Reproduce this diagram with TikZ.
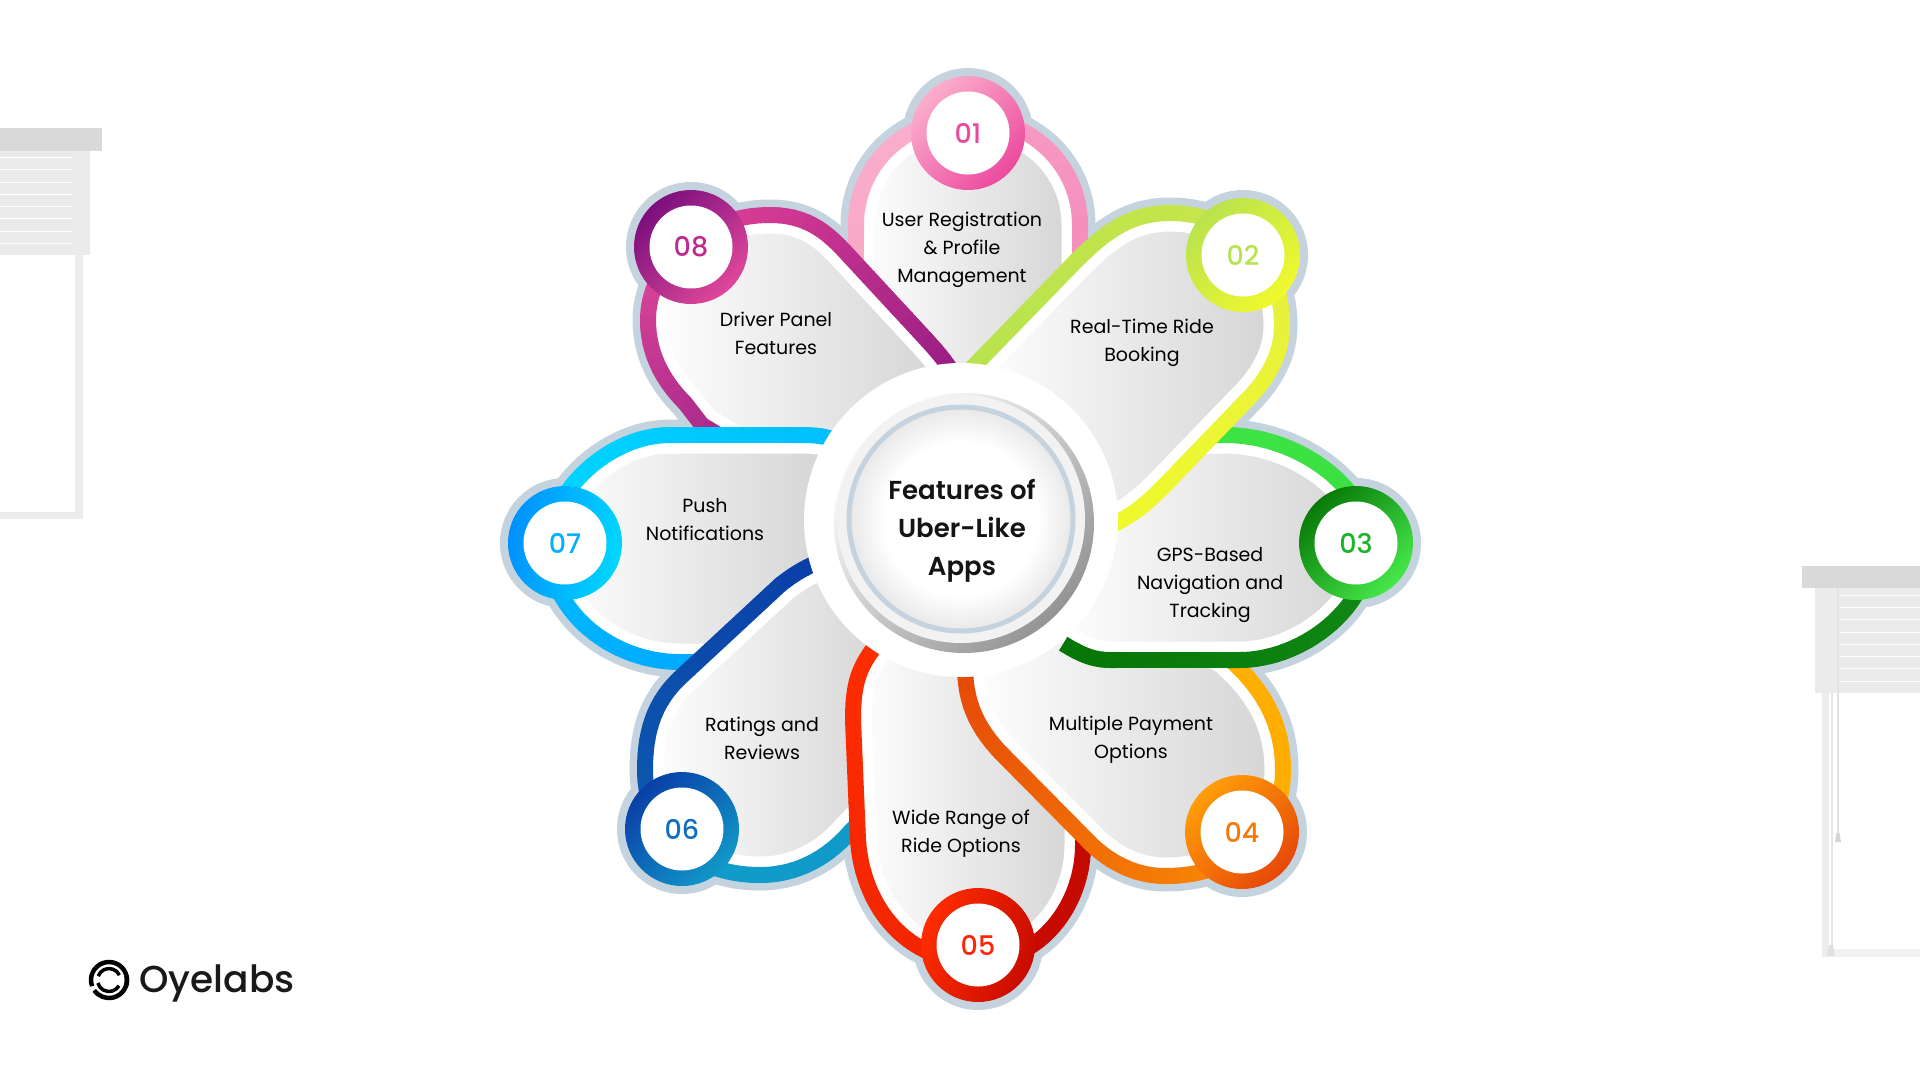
\documentclass[tikz,border=0pt]{standalone}
\usepackage{fontspec}
\setmainfont{Poppins}
\newfontfamily\medfont{Poppins Medium}
\newfontfamily\semifont{Poppins SemiBold}
\usetikzlibrary{positioning}

\definecolor{haloc}{HTML}{C5D3DF}
\definecolor{pa}{HTML}{F8A4C4}\definecolor{pb}{HTML}{FAB0CD}\definecolor{pm}{HTML}{F99EC4}\definecolor{pc}{HTML}{F080B8}\definecolor{pd}{HTML}{EC4A9F}\definecolor{pn}{HTML}{E94A9E}\definecolor{pe}{HTML}{FBAECB}
\definecolor{qa}{HTML}{B9E34D}\definecolor{qb}{HTML}{C7E64C}\definecolor{qm}{HTML}{E6F03E}\definecolor{qc}{HTML}{F0F92D}
\definecolor{ra}{HTML}{40E848}\definecolor{rb}{HTML}{3ADE42}\definecolor{rm}{HTML}{128A17}\definecolor{rc}{HTML}{067506}\definecolor{rd}{HTML}{087A08}\definecolor{rn}{HTML}{1DB32A}\definecolor{re}{HTML}{46E84A}
\definecolor{sa}{HTML}{FFB300}\definecolor{sb}{HTML}{FFAB00}\definecolor{sm}{HTML}{F98C05}\definecolor{sc}{HTML}{E64808}\definecolor{sd}{HTML}{FF9D08}\definecolor{sn}{HTML}{F47A08}
\definecolor{ta}{HTML}{FF2D00}\definecolor{tb}{HTML}{F02400}\definecolor{tm}{HTML}{C80B00}\definecolor{tc}{HTML}{C00800}\definecolor{tn}{HTML}{FF2408}
\definecolor{ua}{HTML}{0A3FA8}\definecolor{ub}{HTML}{0D58AE}\definecolor{um}{HTML}{0F9CCB}\definecolor{uc}{HTML}{1198C8}\definecolor{un}{HTML}{0F6FC0}
\definecolor{va}{HTML}{00BFFF}\definecolor{vb}{HTML}{00D8FF}\definecolor{vm}{HTML}{00BAFF}\definecolor{vc}{HTML}{00A0FF}\definecolor{vd}{HTML}{0090FF}\definecolor{vn}{HTML}{00B0FF}
\definecolor{wa}{HTML}{8E1C82}\definecolor{wb}{HTML}{E0489A}\definecolor{wm}{HTML}{E8449A}\definecolor{wc}{HTML}{9B1F83}\definecolor{wd}{HTML}{7B0F7D}\definecolor{wn}{HTML}{C02A8E}

\pgfdeclareradialshading{hubfill}{\pgfpointorigin}{color(0bp)=(white); color(17bp)=(white); color(25bp)=(black!9); color(50bp)=(black!9)}

% one petal: path, length, spot of the badge, colours before it, colours after it
\newcommand{\petal}[7]{
	\begin{scope}
		\clip #1 -- cycle;
		\shade[left color=white, right color=black!17] #1 -- cycle;
		\draw[white, line width=37pt] #1;
	\end{scope}
	\pgfmathtruncatemacro{\nseg}{#2/14}
	\foreach \k in {0,...,\nseg}{
		\pgfmathtruncatemacro{\spot}{14*\k}
		\pgfmathsetmacro{\ph}{3000-14*\k}
		\ifnum\k=0 \def\ph{0}\fi
		\ifnum\spot<#3
			\pgfmathtruncatemacro{\lo}{100-\spot/#3*100}
			\colorlet{segc}{#4!\lo!#5}
		\else
			\pgfmathtruncatemacro{\lo}{max(0,100-(\spot-#3)/(#2-#3)*100)}
			\colorlet{segc}{#6!\lo!#7}
		\fi
		\draw[segc, line width=16pt, dash pattern=on 15pt off 2985pt, dash phase=\ph pt] #1;
	}
}

\def\pathA{(905,410) -- (856,300) -- (856,225) .. controls (856,165) and (905,118) .. (968,118) .. controls (1031,118) and (1080,165) .. (1080,225) -- (1080,270) -- (1010,410)}
\def\pathB{(972,368) -- (1075,262) .. controls (1105,232) and (1130,213) .. (1170,213) .. controls (1235,213) and (1282,260) .. (1282,325) .. controls (1282,360) and (1262,385) .. (1245,402) -- (1165,485) .. controls (1150,500) and (1135,515) .. (1108,527)}
\def\pathC{(1080,440) -- (1225,435) .. controls (1300,435) and (1370,490) .. (1370,545) .. controls (1370,610) and (1300,660) .. (1240,660) -- (1110,660) .. controls (1090,660) and (1075,652) .. (1050,635)}
\def\pathD{(1090,590) -- (1225,655) .. controls (1260,685) and (1283,720) .. (1283,770) .. controls (1283,830) and (1240,876) .. (1165,876) .. controls (1135,876) and (1110,862) .. (1092,845) -- (1000,752) .. controls (975,725) and (965,700) .. (965,665)}
\def\pathE{(880,640) .. controls (860,665) and (853,680) .. (853,720) -- (858,840) .. controls (862,900) and (900,960) .. (975,962) .. controls (1040,963) and (1083,905) .. (1083,845) -- (1083,780) -- (1000,660)}
\def\pathF{(818,562) .. controls (800,570) and (790,577) .. (780,585) -- (683,675) .. controls (655,700) and (645,730) .. (645,770) .. controls (645,830) and (690,875) .. (760,875) .. controls (800,875) and (830,855) .. (850,832) -- (890,790) -- (900,650)}
\def\pathG{(835,440) .. controls (825,436) and (815,435) .. (800,435) -- (670,435) .. controls (610,435) and (550,490) .. (548,545) .. controls (548,610) and (610,662) .. (680,662) -- (760,662) -- (820,600)}
\def\pathH{(810,490) -- (702,425) -- (685,403) .. controls (660,378) and (648,350) .. (648,320) .. controls (648,265) and (700,215) .. (770,215) .. controls (810,215) and (830,235) .. (850,257) -- (925,338) .. controls (935,349) and (945,360) .. (952,372)}

\begin{document}
\begin{tikzpicture}
		[x=1pt, y=-1pt, line join=round,
		halo/.style={draw=haloc, line width=31pt},
		ringc/.style={circle, minimum size=114pt, inner sep=0pt, shading angle=45},
		badge/.style={circle, fill=white, minimum size=83pt, inner sep=0pt, font=\fontsize{27}{30}\medfont},
		lbl/.style={align=center, inner sep=0pt, text=black, font=\fontsize{19}{28}\selectfont},
		slat/.style={fill=black!8, draw=none},
		frame/.style={fill=black!7, draw=none}]

			\useasboundingbox (0,0) rectangle (1920,1080);
			\fill[white] (0,0) rectangle (1920,1080);

			% left window
			\fill[frame] (75,255) rectangle (83,519);
			\fill[frame] (0,512) rectangle (83,519);
			\fill[slat] (0,151) rectangle (90,255);
			\foreach \yy in {157,169,182,194,206,218,231,243}
				\fill[white] (0,\yy) rectangle (73,\yy+1.3);
			\fill[black!15] (0,128) rectangle (102,151);

			% right window
			\fill[frame] (1822,693) rectangle (1829,957);
			\fill[black!10] (1830.5,588) rectangle (1832.5,950);
			\fill[black!5] (1829,949) rectangle (1920,957);
			\fill[slat] (1815,588) rectangle (1920,693);
			\foreach \yy in {595,607,619,632,644,656,668,681}
				\fill[white] (1840,\yy) rectangle (1920,\yy+1.3);
			\fill[black!11] (1837,588) rectangle (1839,833);
			\fill[black!17] (1836.5,833) -- (1839.5,833) -- (1841,842) -- (1835,842) -- cycle;
			\fill[black!12] (1829,945) -- (1833,945) -- (1835,956) -- (1827,956) -- cycle;
			\fill[black!15] (1802,566) rectangle (1920,588);

			% back outline
			\foreach \pp in {\pathA,\pathB,\pathC,\pathD,\pathE,\pathF,\pathG,\pathH}
				\draw[halo] \pp;
			\foreach \cc in {(968,133),(1243,255),(1356,543),(1242,832),(978,945),(682,829),(565,543),(691,247)}
				\fill[haloc] \cc circle[radius=65];

			\petal{\pathA}{726}{360}{pa}{pb}{pm}{pc}
			\petal{\pathH}{660}{320}{wa}{wb}{wm}{wc}
			\petal{\pathG}{684}{336}{va}{vb}{vm}{vc}
			\petal{\pathF}{750}{312}{ua}{ub}{um}{uc}
			\petal{\pathE}{752}{380}{ta}{tb}{tm}{tc}
			\petal{\pathD}{760}{365}{sa}{sb}{sm}{sc}
			\petal{\pathC}{712}{335}{ra}{rb}{rm}{rc}
			\petal{\pathB}{700}{346}{qa}{qb}{qm}{qc}

			% hub
			\node[circle, fill=white, minimum size=314pt](hub) at (961,520) {};
			\shade[left color=white, middle color=white, right color=black!42, shading angle=45] (964,523) circle[radius=130];
			\node[circle, fill=black!5, minimum size=248pt](hubmid) at (961,519) {};
			\node[circle, draw=haloc, line width=5pt, minimum size=224pt, shading=hubfill](hubin) at (hubmid) {};
			\node[align=center, inner sep=0pt, text=black!92, font=\fontsize{26}{38}\semifont](hubt) at (962,531) {Features of\\Uber-Like\\Apps};

			% badges
			\node[left color=pe, right color=pd, ringc](r1) at (968,133) {};
			\node[badge, text=pn](b1) at (r1) {01};
			\node[left color=qa, right color=qc, ringc](r2) at (1243,255) {};
			\node[badge, text=qa](b2) at (r2) {02};
			\node[left color=rd, right color=re, ringc](r3) at (1356,543) {};
			\node[badge, text=rn](b3) at (r3) {03};
			\node[left color=sd, right color=sc, ringc](r4) at (1242,832) {};
			\node[badge, text=sn](b4) at (r4) {04};
			\node[left color=ta, right color=tm, ringc, shading angle=70](r5) at (978,945) {};
			\node[badge, text=tn](b5) at (r5) {05};
			\node[left color=ua, right color=uc, ringc](r6) at (682,829) {};
			\node[badge, text=un](b6) at (r6) {06};
			\node[left color=vd, right color=vb, ringc, shading angle=80](r7) at (565,543) {};
			\node[badge, text=vn](b7) at (r7) {07};
			\node[left color=wd, right color=wb, ringc](r8) at (691,247) {};
			\node[badge, text=wn](b8) at (r8) {08};

			% labels
			\node[lbl, below=37.5pt of b1, xshift=-6pt](t1) {User Registration\\\& Profile\\Management};
			\node[lbl, below=22.5pt of b2, xshift=-101pt](t2) {Real-Time Ride\\Booking};
			\node[lbl, left=31pt of b3, yshift=-42pt](t3) {GPS-Based\\Navigation and\\Tracking};
			\node[lbl, above=26.5pt of b4, xshift=-111pt](t4) {Multiple Payment\\Options};
			\node[lbl, above=46pt of b5, xshift=-17pt](t5) {Wide Range of\\Ride Options};
			\node[lbl, above=27.5pt of b6, xshift=80pt](t6) {Ratings and\\Reviews};
			\node[lbl, right=39pt of b7, yshift=23pt](t7) {Push\\Notifications};
			\node[lbl, below=23pt of b8, xshift=85pt](t8) {Driver Panel\\Features};

			% logo
			\node[circle, minimum size=44pt, inner sep=0pt](logo) at (109,980) {};
			\draw[black, line width=4.5pt] (logo.center) ++(160:18) arc (160:380:18);
			\draw[black, line width=4.5pt] (logo.center) ++(-15:18) arc (-15:145:18);
			\draw[black, line width=3.5pt] (logo.center) ++(200:11.5) arc (200:335:11.5);
			\draw[black, line width=3.5pt] (logo.center) ++(30:11.5) arc (30:165:11.5);
			\node[right=8pt of logo, inner sep=0pt, yshift=-3pt, text=black!90, font=\fontsize{37.5}{44}\medfont](brand) {Oyelabs};

	\end{tikzpicture}
\end{document}
